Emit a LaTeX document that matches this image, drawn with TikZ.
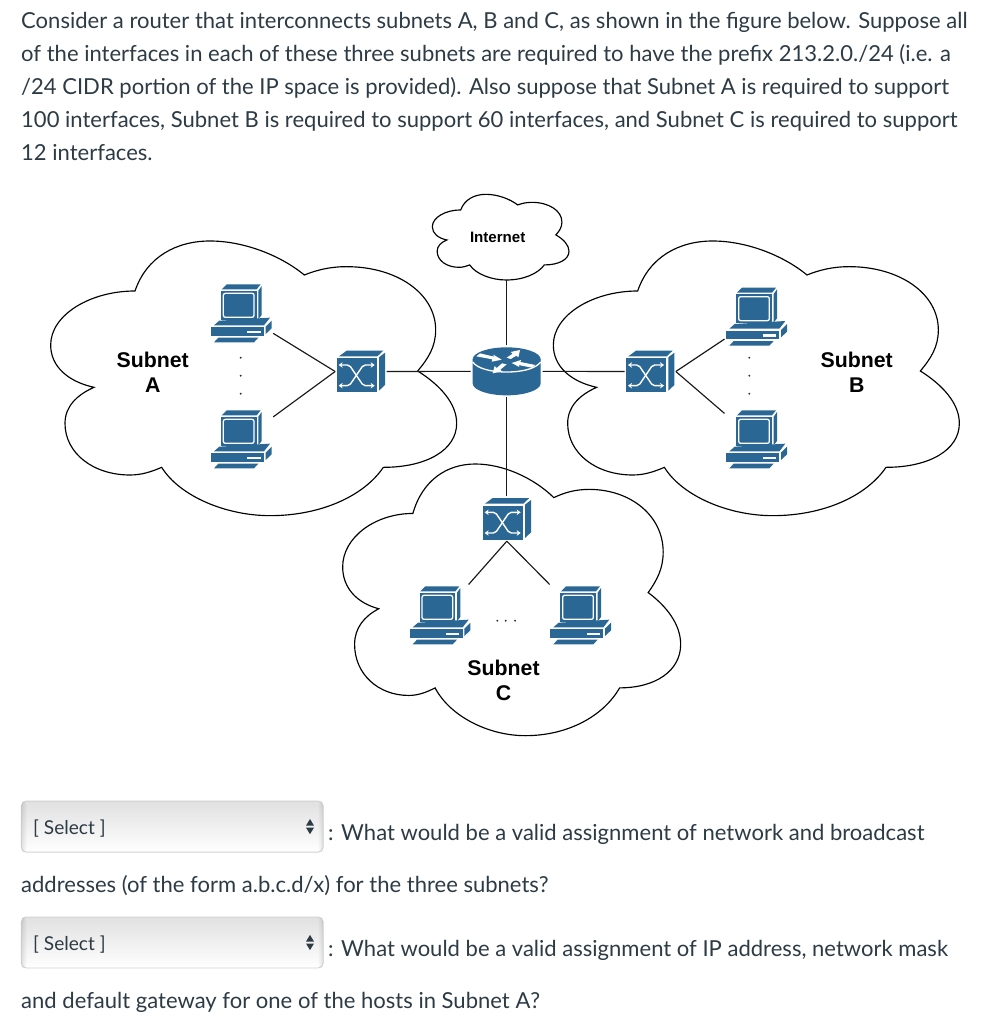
\documentclass[tikz,border=0pt]{standalone}
\usepackage{fontspec}
\setmainfont{Lato}
\newfontfamily\arialb[BoldFont=Liberation Sans Bold]{Liberation Sans}
\usetikzlibrary{arrows.meta,fadings,calc}
\definecolor{iconblue}{HTML}{2B6794}
\definecolor{bodytext}{HTML}{2D3B45}
\newcommand{\cloudshape}[4]{%
  \draw[cloudline,shift={(#1,#2)},xscale=#3,yscale=#4]
  (315,183) .. controls (350,80) and (440,33) .. (540,33)
  .. controls (640,33) and (750,75) .. (823,135)
  .. controls (860,120) and (900,110) .. (950,110)
  .. controls (1100,110) and (1217,190) .. (1217,300)
  .. controls (1217,350) and (1195,385) .. (1163,423)
  .. controls (1230,465) and (1280,520) .. (1280,580)
  .. controls (1280,660) and (1190,712) .. (1060,712)
  .. controls (1000,800) and (870,857) .. (720,857)
  .. controls (590,857) and (450,800) .. (395,712)
  .. controls (365,725) and (335,735) .. (300,735)
  .. controls (190,735) and (105,670) .. (105,580)
  .. controls (105,530) and (140,495) .. (192,472)
  .. controls (115,455) and (62,410) .. (62,345)
  .. controls (62,255) and (180,183) .. (315,183) -- cycle;}
\tikzset{
  cloudline/.style={black,line width=1.15pt,line join=miter},
  link/.style={black!90,line width=1.15pt},
  pcbox/.style={rectangle,inner sep=0pt,outer sep=1.5pt,minimum width=61pt,minimum height=58.67pt},
  swbox/.style={rectangle,inner sep=0pt,outer sep=1.5pt,minimum width=48.33pt,minimum height=41.67pt},
  rtbox/.style={rectangle,inner sep=0pt,outer sep=2pt,minimum width=68pt,minimum height=48pt},
  dot/.style={circle,fill=black!80,inner sep=0pt,minimum size=2.1pt},
  netlabel/.style={font=\arialb\bfseries\fontsize{21.3}{25}\selectfont,align=center,inner sep=0pt,text=black},
  para/.style={anchor=base west,inner sep=0pt,text=bodytext,font=\fontsize{22.03}{27}\selectfont},
  selbox/.style={rectangle,rounded corners=5pt,draw=black!18,line width=0.8pt,inner sep=0pt,
    minimum width=302pt,minimum height=51pt,top color=black!12,bottom color=white},
  pcicon/.pic={
    \begin{scope}[scale=0.33333,shift={(-153.5,-130)}]
      \fill[iconblue] (95,58) -- (110,43) -- (212,43) -- (200,58) -- cycle;
      \fill[iconblue] (205,62) -- (215,48) -- (215,135) -- (205,148) -- cycle;
      \fill[iconblue] (93,63) rectangle (200,150);
      \draw[white,line width=1.3pt,rounded corners=2pt] (100,70) rectangle (192,142);
      \fill[iconblue] (72,166) -- (88,152) -- (240,143) -- (222,166) -- cycle;
      \fill[iconblue] (63,172) rectangle (222,198);
      \fill[white] (172,182) rectangle (212,190);
      \fill[iconblue] (227,170) -- (245,152) -- (245,175) -- (227,192) -- cycle;
      \fill[iconblue] (72,217) -- (85,203) -- (205,203) -- (192,217) -- cycle;
    \end{scope}},
  swicon/.pic={
    \begin{scope}[scale=0.33333,shift={(-512.5,-304.5)}]
      \fill[iconblue] (447,259) -- (470,242) -- (580,242) -- (562,259) -- cycle;
      \fill[iconblue] (567,262) -- (585,248) -- (585,345) -- (567,362) -- cycle;
      \fill[iconblue] (440,265) rectangle (560,367);
      \draw[white,line width=1.4pt,{Stealth[length=4pt,width=5.5pt]}-{Stealth[length=4pt,width=5.5pt]},rounded corners=2pt]
        (446,285) -- (478,285) -- (520,347) -- (554,347);
      \draw[white,line width=1.4pt,{Stealth[length=4pt,width=5.5pt]}-{Stealth[length=4pt,width=5.5pt]},rounded corners=2pt]
        (554,285) -- (520,285) -- (478,347) -- (446,347);
    \end{scope}},
  rticon/.pic={
    \begin{scope}[scale=0.33333,shift={(-320,-304)}]
      \fill[iconblue] (218,268) -- (218,340) .. controls (218,360) and (264,376) .. (320,376)
        .. controls (376,376) and (422,360) .. (422,340) -- (422,268) -- cycle;
      \fill[iconblue] (320,268) ellipse [x radius=102,y radius=36];
      \draw[white,line width=1.3pt] (218,276) .. controls (232,295) and (270,306) .. (320,306)
        .. controls (370,306) and (408,295) .. (422,276);
      \fill[white] (229,259) -- (240,250) -- (282,260) -- (280,254) -- (305,269) -- (275,275) -- (277,268) -- cycle;
      \fill[white] (335,279) -- (363,270) -- (361,276) -- (406,285) -- (395,293) -- (356,285) -- (358,291) -- cycle;
      \fill[white] (360,240) -- (355,262) -- (349,257) -- (332,267) -- (320,263) -- (338,251) -- (332,246) -- cycle;
      \fill[white] (278,310) -- (284,288) -- (290,294) -- (306,280) -- (320,283) -- (301,299) -- (306,304) -- cycle;
    \end{scope}}
}
\begin{document}
\begin{tikzpicture}[x=1pt,y=-1pt]
\useasboundingbox (0,0) rectangle (987,1024);
\fill[white] (0,0) rectangle (987,1024);

% paragraph
\node[para] (p1) at (21,28.5) {Consider a router that interconnects subnets A, B and C, as shown in the figure below. Suppose all};
\node[para] (p2) at (21,61.5) {of the interfaces in each of these three subnets are required to have the prefix 213.2.0./24 (i.e. a};
\node[para] (p3) at (21,94.5) {/24 CIDR portion of the IP space is provided). Also suppose that Subnet A is required to support};
\node[para] (p4) at (21,127.5) {100 interfaces, Subnet B is required to support 60 interfaces, and Subnet C is required to support};
\node[para] (p5) at (21,160.5) {12 interfaces.};

% clouds
\cloudshape{30}{230}{0.33333}{0.33333}
\cloudshape{532.67}{230}{0.33333}{0.33333}
\cloudshape{325.46}{453.12}{0.2775}{0.3297}
\cloudshape{425.37}{190.9}{0.1122}{0.10397}
\node[rectangle,inner sep=0pt,outer sep=0pt,minimum width=136.67pt,minimum height=85.67pt] (inetcloud) at (500.67,237.2) {};

% devices
\node[rtbox] (router) at (506.67,371.33) {};
\pic at (router.center) {rticon};
\node[swbox] (swA) at (360.83,371.5) {};
\pic at (swA.center) {swicon};
\node[swbox] (swB) at (650.17,371.5) {};
\pic at (swB.center) {swicon};
\node[swbox] (swC) at (506.83,518.83) {};
\pic at (swC.center) {swicon};
\node[pcbox] (pcA1) at (241.17,313.33) {};
\node[pcbox] (pcA2) at (241.17,439.33) {};
\node[pcbox] (pcB1) at (756.5,316.67) {};
\node[pcbox] (pcB2) at (756.5,439.33) {};
\node[pcbox] (pcC1) at (439.83,615.33) {};
\node[pcbox] (pcC2) at (580.5,615.33) {};
\foreach \n in {pcA1,pcA2,pcB1,pcB2,pcC1,pcC2} {\pic at (\n.center) {pcicon};}

% connectors
\draw[link] (router.north) -- (router.north |- inetcloud.south);
\draw[link] (router.south) -- (router.south |- swC.north);
\draw[link] (router.west) -- (swA.east);
\draw[link] (router.east) -- (swB.west);
\draw[link] (pcA1.-32) -- (swA.west);
\draw[link] (pcA2.35) -- (swA.west);
\draw[link] (pcB1.215) -- (swB.east);
\draw[link] (pcB2.141) -- (swB.east);
\draw[link] (pcC1.47) -- (swC.south);
\draw[link] (pcC2.135) -- (swC.south);

% dots
\foreach \y [count=\i] in {357.7,375.7,393.7} {
  \node[dot] (dA\i) at (240.7,\y) {};
  \node[dot] (dB\i) at (749.3,\y) {};
}
\foreach \x [count=\i] in {497.3,505.7,515} { \node[dot] (dC\i) at (\x,620.7) {}; }

% labels
\node[netlabel] (lblA) at (152.7,372) {Subnet\\A};
\node[netlabel] (lblB) at (856.7,372) {Subnet\\B};
\node[netlabel] (lblC) at (503.5,680) {Subnet\\C};
\node[netlabel,font=\arialb\bfseries\fontsize{15.1}{18}\selectfont] (lblI) at (497.7,237) {Internet};

% selects and questions
\node[selbox] (sel1) at (172.2,826.6) {};
\node[selbox] (sel2) at (172.2,942.5) {};
\foreach \b in {sel1,sel2} {
  \fill[black,opacity=0.10,path fading=east,rounded corners=5pt] ($(\b.north west)+(0.5,0.5)$) rectangle ($(\b.south west)+(6,-0.5)$);
  \fill[black,opacity=0.10,path fading=west,rounded corners=5pt] ($(\b.north east)+(-6,0.5)$) rectangle ($(\b.south east)+(-0.5,-0.5)$);
  \fill[bodytext] ($(\b.center)+(137.8,-7.6)$) -- ($(\b.center)+(133.8,-1)$) -- ($(\b.center)+(141.8,-1)$) -- cycle;
  \fill[bodytext] ($(\b.center)+(137.8,7.6)$) -- ($(\b.center)+(133.8,1)$) -- ($(\b.center)+(141.8,1)$) -- cycle;
}
\node[para,font=\fontsize{19.1}{24}\selectfont] (s1) at (33,834) {[ Select ]};
\node[para,font=\fontsize{19.1}{24}\selectfont] (s2) at (33,950) {[ Select ]};
\node[para] (q1) at (328,840) {: What would be a valid assignment of network and broadcast};
\node[para] (q2) at (21,892) {addresses (of the form a.b.c.d/x) for the three subnets?};
\node[para] (q3) at (328,956) {: What would be a valid assignment of IP address, network mask};
\node[para] (q4) at (21,1008) {and default gateway for one of the hosts in Subnet A?};
\end{tikzpicture}
\end{document}
